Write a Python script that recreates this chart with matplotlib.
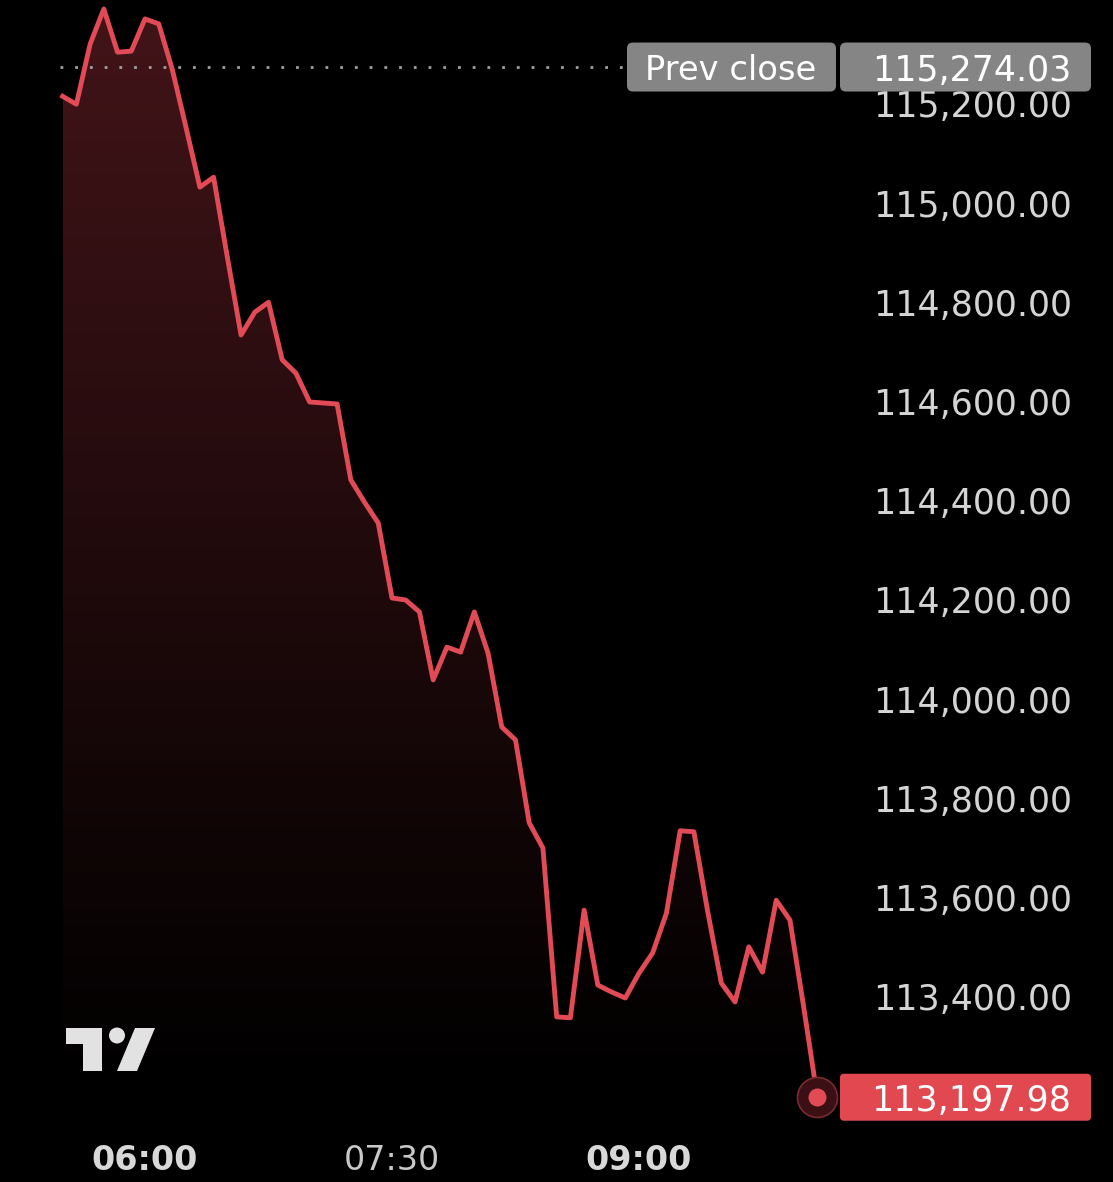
import numpy as np
import matplotlib
matplotlib.use("Agg")
import matplotlib.pyplot as plt
from matplotlib.patches import FancyBboxPatch, Circle, Polygon, Rectangle
from matplotlib.colors import LinearSegmentedColormap

# ---- data -------------------------------------------------------------
# minutes relative to 06:00, 5-minute bars from 05:30 to 10:05
minutes = list(range(-30, 246, 5))
prices = [
    115215, 115199, 115320, 115391, 115304, 115306, 115371, 115361,
    115268, 115151, 115032, 115052, 114891, 114734, 114780, 114800,
    114684, 114657, 114599, 114597, 114595, 114442, 114397, 114355,
    114204, 114200, 114176, 114039, 114105, 114095, 114176, 114093,
    113944, 113918, 113751, 113700, 113360, 113358, 113575, 113424,
    113410, 113398, 113448, 113489, 113569, 113735, 113733, 113573,
    113428, 113390, 113501, 113450, 113595, 113555, 113380, 113197.98,
]
prev_close = 115274.03
last_price = prices[-1]
y_ticks = [113400, 113600, 113800, 114000, 114200, 114400, 114600, 114800, 115000, 115200]
x_ticks = [0, 90, 180]
x_labels = ["06:00", "07:30", "09:00"]
x_bold = [True, False, True]

RED = "#e24b55"
W, H = 1113, 1182

fig = plt.figure(figsize=(W / 100, H / 100), dpi=100, facecolor="black")
ax = fig.add_axes([0, 1 - 1120 / H, 840 / W, 1120 / H])
ax.set_facecolor("black")
ax.set_xlim(-52.83, 253.24)
ymin, ymax = 113152.1, 115409.1
ax.set_ylim(ymin, ymax)
for s in ax.spines.values():
    s.set_visible(False)

# gradient area
t0, t1 = minutes[0], minutes[-1]
verts = [(t0, ymin)] + list(zip(minutes, prices)) + [(t1, ymin)]
poly = Polygon(verts, closed=True, facecolor="none", edgecolor="none")
ax.add_patch(poly)
cmap = LinearSegmentedColormap.from_list("g", [(0, 0, 0), (66 / 255, 20 / 255, 24 / 255)])
grad = np.linspace(1, 0, 256).reshape(-1, 1)
im = ax.imshow(grad, extent=[t0, t1, ymin + 60, max(prices)], aspect="auto",
               cmap=cmap, origin="upper", zorder=1, interpolation="bilinear")
im.set_clip_path(poly)

ax.plot(minutes, prices, color=RED, lw=3.5, solid_joinstyle="round", zorder=3)

# prev close dotted line
ax.axhline(prev_close, xmin=60 / 840, xmax=625 / 840, color="#a0a0a0",
           lw=2.0, linestyle=(0, (1, 4.3)), zorder=2)

# end marker
ax.scatter([minutes[-1]], [last_price], s=(2 * 20 / 1.389) ** 2, facecolor="#3a1014",
           edgecolor="#7a2a30", linewidth=1.2, zorder=4, clip_on=False)
ax.scatter([minutes[-1]], [last_price], s=(2 * 9 / 1.389) ** 2, color=RED,
           zorder=5, clip_on=False, linewidth=0)

# axes ticks
ax.yaxis.tick_right()
ax.set_yticks(y_ticks)
ax.set_yticklabels([f"{v:,.2f}" for v in y_ticks])
ax.tick_params(axis="y", length=0, pad=23.8, labelsize=25, labelcolor="#d4d4d4")
ax.set_xticks(x_ticks)
ax.set_xticklabels(x_labels)
ax.tick_params(axis="x", length=0, pad=17, labelsize=24, labelcolor="#d8d8d8")
for lbl, b in zip(ax.get_xticklabels(), x_bold):
    lbl.set_fontweight("bold" if b else "normal")
    if not b:
        lbl.set_color("#c8c8c8")

# overlay in pixel coordinates for labels and logo
fig.canvas.draw()
ov = fig.add_axes([0, 0, 1, 1])
ov.set_xlim(0, W)
ov.set_ylim(H, 0)
ov.axis("off")
ov.patch.set_alpha(0)

def ypix(v):
    return H - ax.transData.transform((0, v))[1]

yp = ypix(prev_close)
ov.add_patch(FancyBboxPatch((627 + 6, yp - 24.5 + 6), 209 - 12, 49 - 12,
                            boxstyle="round,pad=6", facecolor="#858585", edgecolor="none"))
ov.add_patch(FancyBboxPatch((840 + 6, yp - 24.5 + 6), 251 - 12, 49 - 12,
                            boxstyle="round,pad=6", facecolor="#858585", edgecolor="none"))
ov.text(731, yp, "Prev close", color="white", fontsize=24.3, ha="center", va="center_baseline")
ov.text(1071, yp, f"{prev_close:,.2f}", color="white", fontsize=25, ha="right", va="center_baseline")

yl = ypix(last_price)
ov.add_patch(FancyBboxPatch((840 + 4, yl - 23.5 + 4), 251 - 8, 47 - 8,
                            boxstyle="round,pad=4", facecolor="#e2484f", edgecolor="none"))
ov.text(1071, yl, f"{last_price:,.2f}", color="white", fontsize=25, ha="right", va="center_baseline")

# TradingView logo
logo_c = "#e2e2e2"
ov.add_patch(Rectangle((66, 1028), 36, 16, facecolor=logo_c, edgecolor="none"))
ov.add_patch(Rectangle((83, 1028), 19, 43, facecolor=logo_c, edgecolor="none"))
ov.add_patch(Circle((117, 1035.5), 8, facecolor=logo_c, edgecolor="none"))
ov.add_patch(Polygon([(135, 1028), (155, 1028), (137, 1071), (117, 1071)],
                     closed=True, facecolor=logo_c, edgecolor="none"))

fig.savefig("out.png", dpi=100, facecolor="black")
